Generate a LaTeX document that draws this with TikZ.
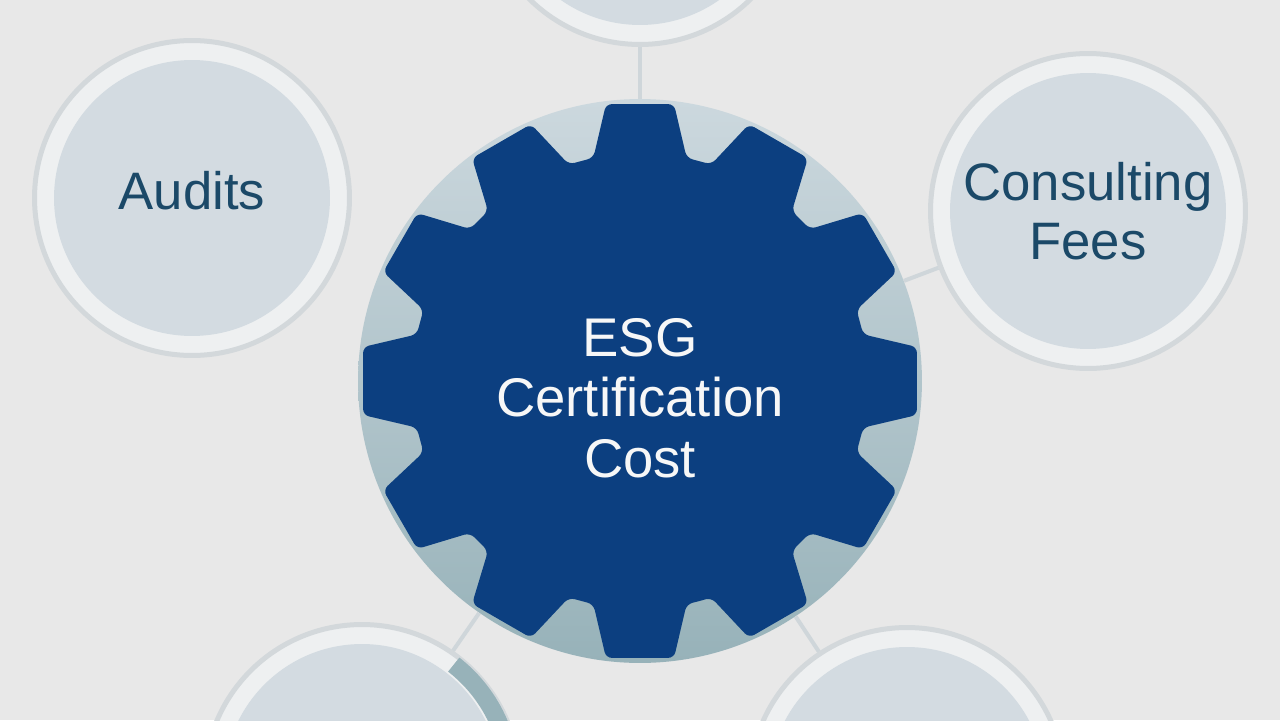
\documentclass[tikz,border=0pt]{standalone}
\usepackage{fontspec}
\setmainfont{Liberation Sans}

\definecolor{bggray}{HTML}{E8E8E8}
\definecolor{gearblue}{HTML}{0C3F80}
\definecolor{disklight}{HTML}{CCD8DE}
\definecolor{diskteal}{HTML}{97B2B9}
\definecolor{ringgray}{HTML}{D3D8DB}
\definecolor{bandwhite}{HTML}{EEF0F1}
\definecolor{innerfill}{HTML}{D3DBE1}
\definecolor{labelblue}{HTML}{1B4968}
\definecolor{linkgray}{HTML}{CFD6DA}

\tikzset{
  costbubble/.style={circle, draw=ringgray, line width=0.1cm, fill=bandwhite,
    minimum size=6.3cm, inner sep=0pt, text=labelblue, align=center,
    font=\fontsize{30}{33.5}\selectfont,
    path picture={\fill[innerfill] (path picture bounding box.center) circle (2.76cm);}},
  link/.style={linkgray, line width=0.08cm},
}

\begin{document}
\begin{tikzpicture}[x=0.02cm, y=-0.02cm]
    \fill[bggray] (0,0) rectangle (1280,720);
    \useasboundingbox (0,0) rectangle (1280,720);
    \clip (0,0) rectangle (1280,720);

    % disk behind the gear
    \node[circle, minimum size=11.28cm, inner sep=0pt, top color=disklight, bottom color=diskteal] (gear) at (640,381) {};

    % the cost items round it
    \node[costbubble, text depth=0.32cm] (audits) at (192,198) {Audits};
    \node[costbubble] (fees) at (1088,211) {Consulting\\Fees};
    \node[costbubble] (topitem) at (640,-113) {};
    \node[costbubble] (leftitem) at (362,782) {};
    \node[costbubble] (rightitem) at (907,785) {};

    \draw[link] (gear) -- (topitem);
    \draw[link] (gear) -- (fees);
    \draw[link] (gear) -- (leftitem);
    \draw[link] (gear) -- (rightitem);

    \draw[diskteal, line width=0.36cm] (leftitem.center) ++(-52:149) arc[start angle=-52, end angle=5, radius=149];

    % gear with twelve teeth
    \fill[gearblue, shift={(gear.center)}, rounded corners=0.12cm] (75:228)
        \foreach \a in {90,120,...,420} { -- (\a-11.8:228) -- (\a-7:279) -- (\a+7:279) -- (\a+11.8:228) } -- cycle;

    \node[text=white!94!gray, align=center, font=\fontsize{31}{34.5}\selectfont, yshift=-0.34cm] (esg) at (gear.center) {ESG\\Certification\\Cost};
\end{tikzpicture}
\end{document}
